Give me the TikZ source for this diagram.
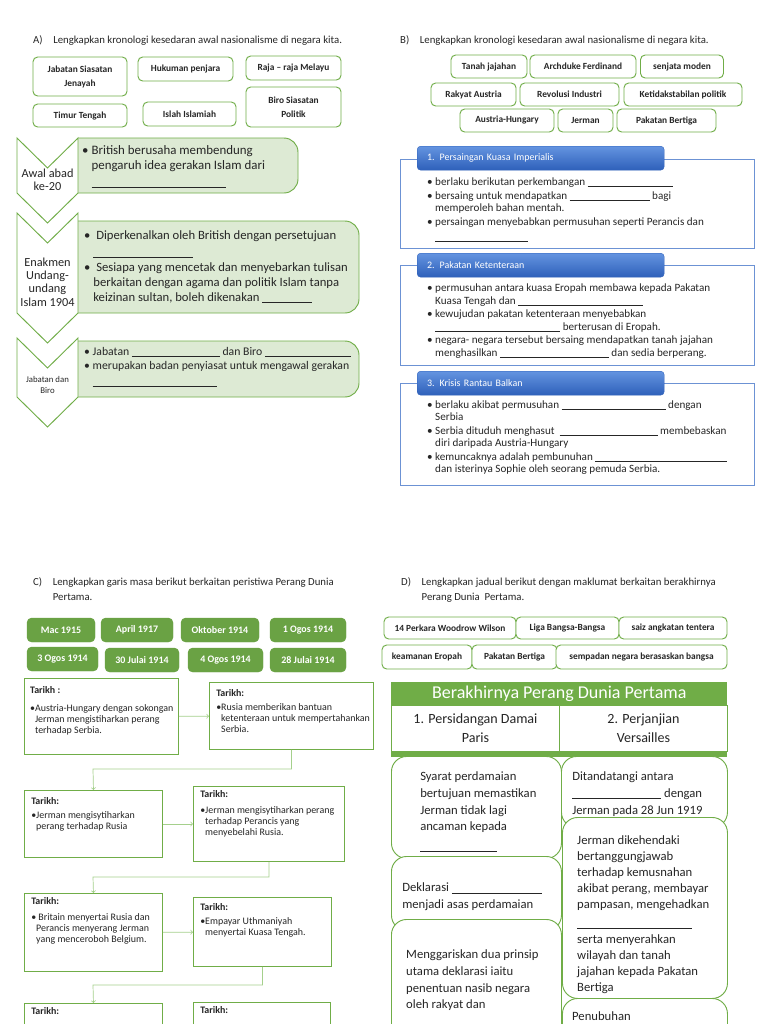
\documentclass[tikz,border=0pt]{standalone}
\usepackage{fontspec}
\setmainfont{Carlito}
\usetikzlibrary{positioning}

\definecolor{hijau}{RGB}{112,173,71}
\definecolor{hijaumuda}{RGB}{221,234,212}
\definecolor{hijaugelap}{RGB}{106,162,68}
\definecolor{garisan}{RGB}{165,208,140}
\definecolor{biru}{RGB}{108,146,212}
\definecolor{birucerah}{RGB}{100,148,224}
\definecolor{birugelap}{RGB}{46,96,186}
\definecolor{teks}{RGB}{38,38,38}

\newlength\upx
\setlength\upx{0.03cm}
\newcommand{\isian}[1]{\rule[-1pt]{#1\upx}{0.5pt}}
\newcommand{\ukuran}[2]{\fontsize{#1}{#2}\selectfont}
\newcommand{\butir}{\textbullet\ }
\newcommand{\gantung}{\phantom{\textbullet\ }}

\tikzset{
  saiz/.style 2 args={minimum width=#1*0.03cm, minimum height=#2*0.03cm},
  soalan/.style={anchor=north west, inner sep=0pt, text=teks, align=left, font=\ukuran{9.2}{12.8}},
  katabox/.style={draw=hijau, line width=0.8pt, rounded corners=4pt, fill=white, text=teks,
    align=center, inner sep=1pt, font=\ukuran{8}{12}\bfseries},
  kotakhijau/.style={draw=hijau, line width=0.8pt, fill=hijaumuda, rounded corners=12pt},
  chevron/.style={draw=hijau, line width=0.8pt, fill=white},
  labelchevron/.style={align=center, inner sep=0pt, text=teks, font=\ukuran{10.5}{11.5}},
  isihijau/.style={anchor=north west, inner sep=0pt, text=teks, align=left},
  panel/.style={draw=biru, line width=0.7pt, anchor=north west, inner sep=0pt},
  tajuk/.style={anchor=north west, rounded corners=3pt, top color=birucerah, bottom color=birugelap,
    draw=birugelap, line width=0.3pt, text=white, font=\ukuran{8.5}{10}, align=left,
    inner xsep=8.5pt, inner ysep=0pt, text width=193.8pt, saiz={247}{24}},
  isibiru/.style={anchor=north west, inner sep=0pt, text=teks, align=left, font=\ukuran{9.5}{10.6}},
  tarikhbox/.style={fill=hijaugelap, draw=hijaugelap, rounded corners=4pt, text=white,
    inner sep=0pt, font=\ukuran{8.5}{9}\bfseries},
  peristiwa/.style={draw=hijau, line width=0.8pt, anchor=north west, inner sep=0pt},
  isiperistiwa/.style={anchor=north west, inner sep=0pt, text=teks, align=left, font=\ukuran{8.5}{9.4}},
  aliran/.style={draw=garisan, line width=0.6pt, ->},
  jadual/.style={draw=hijau, line width=0.8pt, fill=white, rounded corners=13pt, anchor=north west, inner sep=0pt},
  isijadual/.style={anchor=north west, inner sep=0pt, text=teks, align=left, font=\ukuran{10.8}{14.2}},
  kepalajadual/.style={anchor=north west, inner sep=0pt, align=center}
}

\begin{document}
\begin{tikzpicture}[x=0.03cm, y=-0.03cm]
\path[use as bounding box, fill=white] (0,0) rectangle (768,1024);

% A) kronologi kesedaran
\node[soalan] (soalanA) at (33,35) {A)\hspace{9pt}Lengkapkan kronologi kesedaran awal nasionalisme di negara kita.};
\node[katabox, saiz={94}{39}] (jss) at (80,76.5) {Jabatan Siasatan\\Jenayah};
\node[katabox, saiz={95}{24}] (hp) at (185.5,69) {Hukuman penjara};
\node[katabox, saiz={95}{24}] (rm) at (293.5,68) {Raja -- raja Melayu};
\node[katabox, saiz={94}{23}] (tt) at (80,115.5) {Timur Tengah};
\node[katabox, saiz={93}{24}] (ii) at (189.5,114) {Islah Islamiah};
\node[katabox, saiz={95}{40}] (bsp) at (293.5,107) {Biro Siasatan\\Politik};

\path[kotakhijau] (78,138) -- (298,138) -- (298,193) -- (78,193);
\path[kotakhijau] (78,221) -- (359,221) -- (359,313) -- (78,313);
\path[kotakhijau] (78,341) -- (359,341) -- (359,397) -- (78,397);
\foreach \atas/\bawah in {138/193, 213/313, 338/397}
  \path[chevron] (17,\atas) -- (47.5,\atas+30) -- (78,\atas) -- (78,\bawah)
    -- (47.5,\bawah+30) -- (17,\bawah) -- cycle;

\node[labelchevron] (awal) at (47.5,180) {Awal abad\\ke-20};
\node[labelchevron] (enakmen) at (47.5,282) {Enakmen\\Undang-\\undang\\Islam 1904};
\node[labelchevron, font=\ukuran{7.5}{9.5}] (jabatan) at (47.5,385) {Jabatan dan\\Biro};

\node[isihijau, font=\ukuran{11}{12.8}] (isiawal) at (82,145)
  {\butir British berusaha membendung\\\gantung pengaruh idea gerakan Islam dari\\[2pt]\gantung\isian{134}};
\node[isihijau, font=\ukuran{10.8}{12.5}] (isienakmen) at (84,230)
  {\butir\ Diperkenalkan oleh British dengan persetujuan\\[2pt]\gantung\isian{100}\\[1pt]
   \butir\ Sesiapa yang mencetak dan menyebarkan tulisan\\\gantung berkaitan dengan agama dan politik Islam tanpa\\
   \gantung keizinan sultan, boleh dikenakan \isian{50}};
\node[isihijau, font=\ukuran{10}{12.3}] (isijabatan) at (84,347)
  {\butir Jabatan \isian{88} dan Biro \isian{86}\\\butir merupakan badan penyiasat untuk mengawal gerakan\\[1pt]\gantung\isian{124}};

% B) kuasa imperialis
\node[soalan] (soalanB) at (400,35) {B)\hspace{9pt}Lengkapkan kronologi kesedaran awal nasionalisme di negara kita.};
\node[katabox, saiz={76}{23}] (tj) at (489,66.5) {Tanah jajahan};
\node[katabox, saiz={106}{23}] (af) at (583,66.5) {Archduke Ferdinand};
\node[katabox, saiz={83}{23}] (sm) at (682,66.5) {senjata moden};
\node[katabox, saiz={85}{23}] (ra) at (473.5,94.5) {Rakyat Austria};
\node[katabox, saiz={99}{23}] (ri) at (569.5,94.5) {Revolusi Industri};
\node[katabox, saiz={118}{23}] (kp) at (683,94.5) {Ketidakstabilan politik};
\node[katabox, saiz={94}{23}] (ah) at (507,120.5) {Austria-Hungary};
\node[katabox, saiz={55}{23}] (jr) at (585.5,120.5) {Jerman};
\node[katabox, saiz={99}{23}] (pb) at (666.5,120.5) {Pakatan Bertiga};

\node[panel, saiz={354}{89}] (p1) at (400,159) {};
\node[tajuk] (h1) at (417,146) {1. Persaingan Kuasa Imperialis};
\node[isibiru, below right=16pt and 23pt of p1.north west] (t1)
  {\butir berlaku berikutan perkembangan \isian{85}\\[1pt]
   \butir bersaing untuk mendapatkan \isian{80} bagi\\\gantung memperoleh bahan mentah.\\[1pt]
   \butir persaingan menyebabkan permusuhan seperti Perancis dan\\[2pt]\gantung\isian{93}};

\node[panel, saiz={354}{100}] (p2) at (400,265) {};
\node[tajuk] (h2) at (417,253) {2. Pakatan Ketenteraan};
\node[isibiru, below right=16pt and 23pt of p2.north west] (t2)
  {\butir permusuhan antara kuasa Eropah membawa kepada Pakatan\\\gantung Kuasa Tengah dan \isian{125}\\[1pt]
   \butir kewujudan pakatan ketenteraan menyebabkan\\\gantung\isian{125} berterusan di Eropah.\\[1pt]
   \butir negara- negara tersebut bersaing mendapatkan tanah jajahan\\\gantung menghasilkan \isian{109} dan sedia berperang.};

\node[panel, saiz={354}{102}] (p3) at (400,383) {};
\node[tajuk] (h3) at (417,371) {3. Krisis Rantau Balkan};
\node[isibiru, below right=15pt and 23pt of p3.north west] (t3)
  {\butir berlaku akibat permusuhan \isian{104} dengan\\\gantung Serbia\\[1pt]
   \butir Serbia dituduh menghasut \ \isian{98} membebaskan\\\gantung diri daripada Austria-Hungary\\[1pt]
   \butir kemuncaknya adalah pembunuhan \isian{132}\\\gantung dan isterinya Sophie oleh seorang pemuda Serbia.};

% C) garis masa
\node[soalan] (soalanC) at (33,577)
  {C)\hspace{9pt}Lengkapkan garis masa berikut berkaitan peristiwa Perang Dunia\\\phantom{C)}\hspace{9pt}Pertama.};
\node[tarikhbox, saiz={68}{24}] (tk1) at (61,630) {Mac 1915};
\node[tarikhbox, saiz={72}{24}] (tk2) at (137,630) {April 1917};
\node[tarikhbox, saiz={78}{24}] (tk3) at (220,630) {Oktober 1914};
\node[tarikhbox, saiz={76}{24}] (tk4) at (308,630) {1 Ogos 1914};
\node[tarikhbox, saiz={71}{24}] (tk5) at (62.5,659) {3 Ogos 1914};
\node[tarikhbox, saiz={74}{24}] (tk6) at (142,660) {30 Julai 1914};
\node[tarikhbox, saiz={75}{24}] (tk7) at (225.5,660) {4 Ogos 1914};
\node[tarikhbox, saiz={76}{24}] (tk8) at (308,660) {28 Julai 1914};

\node[peristiwa, saiz={154}{76}] (c1) at (24,678) {};
\node[peristiwa, saiz={164}{67}] (c2) at (209,682) {};
\node[peristiwa, saiz={138}{67}] (c3) at (24,790) {};
\node[peristiwa, saiz={151}{75}] (c4) at (193,786) {};
\node[peristiwa, saiz={138}{78}] (c5) at (24,893) {};
\node[peristiwa, saiz={138}{69}] (c6) at (193,897) {};
\node[peristiwa, saiz={138}{60}] (c7) at (24,1003) {};
\node[peristiwa, saiz={137}{60}] (c8) at (193,1002) {};

\node[isiperistiwa, below right=7pt and 5pt of c1.north west] (e1)
  {\textbf{Tarikh :}\\[6pt]\textbullet Austria-Hungary dengan sokongan\\\phantom{\textbullet}Jerman mengistiharkan perang\\\phantom{\textbullet}terhadap Serbia.};
\node[isiperistiwa, below right=6pt and 6pt of c2.north west] (e2)
  {\textbf{Tarikh:}\\[3pt]\textbullet Rusia memberikan bantuan\\\phantom{\textbullet}ketenteraan untuk mempertahankan\\\phantom{\textbullet}Serbia.};
\node[isiperistiwa, below right=6pt and 6pt of c3.north west] (e3)
  {\textbf{Tarikh:}\\[3pt]\textbullet Jerman mengisytiharkan\\\phantom{\textbullet}perang terhadap Rusia};
\node[isiperistiwa, below right=4pt and 6pt of c4.north west] (e4)
  {\textbf{Tarikh:}\\[4pt]\textbullet Jerman mengisytiharkan perang\\\phantom{\textbullet}terhadap Perancis yang\\\phantom{\textbullet}menyebelahi Rusia.};
\node[isiperistiwa, below right=4pt and 6pt of c5.north west] (e5)
  {\textbf{Tarikh:}\\[4pt]\textbullet\ Britain menyertai Rusia dan\\\phantom{\textbullet}Perancis menyerang Jerman\\\phantom{\textbullet}yang menceroboh Belgium.};
\node[isiperistiwa, below right=5pt and 6pt of c6.north west] (e6)
  {\textbf{Tarikh:}\\[3pt]\textbullet Empayar Uthmaniyah\\\phantom{\textbullet}menyertai Kuasa Tengah.};
\node[isiperistiwa, below right=4pt and 6pt of c7.north west] (e7) {\textbf{Tarikh:}};
\node[isiperistiwa, below right=4pt and 6pt of c8.north west] (e8) {\textbf{Tarikh:}};

\coordinate (b1) at (93,769);
\coordinate (b2) at (93,877);
\coordinate (b3) at (93,985);
\path[aliran] (c1) -- (c2);
\path[aliran] (c2.south) |- (b1) -- (c3.north);
\path[aliran] (c3) -- (c4);
\path[aliran] (c4.south) |- (b2) -- (c5.north);
\path[aliran] (c5) -- (c6);
\path[aliran] (c6.south) |- (b3) -- (c7.north);

% D) jadual
\node[soalan] (soalanD) at (401,577)
  {D)\hspace{9pt}Lengkapkan jadual berikut dengan maklumat berkaitan berakhirnya\\\phantom{D)}\hspace{9pt}Perang Dunia\ \ Pertama.};
\node[katabox, saiz={132}{22}] (wilson) at (450,628) {14 Perkara Woodrow Wilson};
\node[katabox, saiz={103}{22}] (liga) at (567.5,628) {Liga Bangsa-Bangsa};
\node[katabox, saiz={108}{22}] (saiz) at (673,628) {saiz angkatan tentera};
\node[katabox, saiz={90}{24}] (keamanan) at (427,657) {keamanan Eropah};
\node[katabox, saiz={85}{24}] (pakatan) at (514.5,657) {Pakatan Bertiga};
\node[katabox, saiz={171}{24}] (sempadan) at (641.5,657) {sempadan negara berasaskan bangsa};

\node[kepalajadual, fill=hijau, text=white, font=\ukuran{15.4}{17}, saiz={336}{23}] (kepala) at (391,682)
  {Berakhirnya Perang Dunia Pertama};
\node[kepalajadual, draw=hijau, line width=0.8pt, fill=white, text=teks, font=\ukuran{12}{16.2}, saiz={168}{46}] (paris) at (391,705)
  {1. Persidangan Damai\\Paris};
\node[kepalajadual, draw=hijau, line width=0.8pt, fill=white, text=teks, font=\ukuran{12}{16.2}, saiz={168}{46}] (versailles) at (559,705)
  {2. Perjanjian\\Versailles};
\node[kepalajadual, fill=hijau, saiz={336}{6}] (jalur) at (391,751) {};

\node[jadual, saiz={170}{102}] (l1) at (391,756) {};
\node[isijadual, below right=13.4pt and 24.8pt of l1.north west] (tl1)
  {Syarat perdamaian\\bertujuan memastikan\\Jerman tidak lagi\\ancaman kepada\\[3pt]\isian{77}};
\node[jadual, saiz={170}{74}] (l2) at (391,856) {};
\node[isijadual, below right=23pt and 9.4pt of l2.north west] (tl2)
  {Deklarasi \isian{90}\\menjadi asas perdamaian};
\node[jadual, saiz={170}{140}] (l3) at (391,919) {};
\node[isijadual, below right=26.4pt and 12.8pt of l3.north west] (tl3)
  {Menggariskan dua prinsip\\utama deklarasi iaitu\\penentuan nasib negara\\oleh rakyat dan\\[3pt]\isian{121}};
\node[jadual, saiz={166}{71}] (r1) at (561,756) {};
\node[isijadual, below right=13.4pt and 9.4pt of r1.north west] (tr1)
  {Ditandatangi antara\\\isian{89} dengan\\Jerman pada 28 Jun 1919};
\node[jadual, saiz={165}{181}] (r2) at (562,817) {};
\node[isijadual, font=\ukuran{10.8}{13.8}, below right=15.4pt and 12.8pt of r2.north west] (tr2)
  {Jerman dikehendaki\\bertanggungjawab\\terhadap kemusnahan\\akibat perang, membayar\\pampasan, mengehadkan\\[2pt]
   \isian{115}\\serta menyerahkan\\wilayah dan tanah\\jajahan kepada Pakatan\\Bertiga};
\node[jadual, saiz={165}{60}] (r3) at (562,998) {};
\node[isijadual, below right=11.9pt and 8.5pt of r3.north west] (tr3) {Penubuhan};
\end{tikzpicture}
\end{document}
